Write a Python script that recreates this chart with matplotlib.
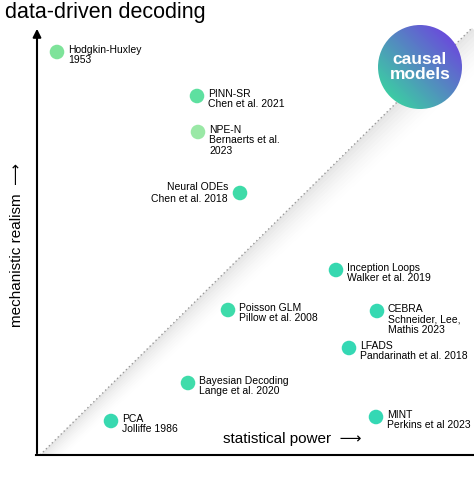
import matplotlib
matplotlib.use("Agg")
import matplotlib.pyplot as plt
import numpy as np
from matplotlib.patches import Circle

names = ["Hodgkin-Huxley\n1953", "PINN-SR\nChen et al. 2021", "NPE-N\nBernaerts et al.\n2023",
         "Neural ODEs\nChen et al. 2018", "Inception Loops\nWalker et al. 2019", "Poisson GLM\nPillow et al. 2008",
         "CEBRA\nSchneider, Lee,\nMathis 2023", "LFADS\nPandarinath et al. 2018",
         "Bayesian Decoding\nLange et al. 2020", "PCA\nJolliffe 1986", "MINT\nPerkins et al 2023"]
power = [57, 197, 198, 240, 336, 228, 377, 349, 188, 111, 376]
realism = [52, 96, 132, 193, 270, 310, 311, 348, 383, 421, 417]
colors = ["#7ee39a", "#5ee0a0", "#9ae8a6", "#3edba8", "#36d8b0", "#3ddbaa", "#36d9b2", "#34d8b4",
          "#40dcaa", "#38d9b0", "#34d8b4"]
label_left = [False, False, False, True, False, False, False, False, False, False, False]

plt.rcParams['font.family'] = ['Liberation Sans', 'DejaVu Sans']
fig = plt.figure(figsize=(4.74, 4.78), dpi=100)
ax = fig.add_axes([0, 0, 1, 1])
ax.set_xlim(0, 474); ax.set_ylim(478, 0); ax.axis("off")

# soft shadow just below the diagonal
for i in range(12):
    off = 2.5 * i
    ax.fill([40, 472, 472 - off * 0 + off, 40 + off], [455, 28, 28 + off, 455],
            color="#000000", alpha=0.018 * (1 - i / 12), lw=0)
ax.plot([40, 472], [455, 28], ls=(0, (1, 2)), color="#999999", lw=1)

# axes arrows
ax.annotate("", xy=(37, 26), xytext=(37, 456), arrowprops=dict(arrowstyle="-|>", color="black", lw=1.5, mutation_scale=12))
ax.plot([36, 474], [455, 455], color="black", lw=1.5)
ax.text(5, 12, "data-driven decoding", fontsize=15.5, va="center", ha="left")
ax.text(292, 439, "statistical power  ⟶", fontsize=11, ha="center", va="center")
ax.text(17, 245, "mechanistic realism  ⟶", fontsize=11, ha="center", va="center", rotation=90)

# causal models circle
n = 200
xx, yy = np.meshgrid(np.linspace(0, 1, n), np.linspace(0, 1, n))
t = np.clip((xx + (1 - yy)) / 2, 0, 1)
c1 = np.array([0.2, 0.9, 0.6]); c2 = np.array([0.45, 0.2, 0.9])
img = c1[None, None, :] * (1 - t[..., None]) + c2[None, None, :] * t[..., None]
im = ax.imshow(img, extent=(378, 462, 109, 25), zorder=3)
circ = Circle((420, 67), 42, transform=ax.transData, facecolor="none", edgecolor="none")
ax.add_patch(circ); im.set_clip_path(circ)
ax.text(420, 67, "causal\nmodels", color="white", fontsize=12.5, fontweight="bold", ha="center", va="center",
        zorder=4, linespacing=1.0)

for x, y, nm, c, lft in zip(power, realism, names, colors, label_left):
    ax.scatter([x], [y], s=110, color=c, zorder=5, edgecolors="none")
    if lft:
        ax.text(x - 12, y, nm, fontsize=7.5, ha="right", va="center", ma="right", zorder=6,
                bbox=dict(fc="white", ec="none", pad=0.5))
    else:
        ax.text(x + 11, y - 7, nm, fontsize=7.5, ha="left", va="top", zorder=6, linespacing=1.05)

fig.savefig("out.png", dpi=100)
